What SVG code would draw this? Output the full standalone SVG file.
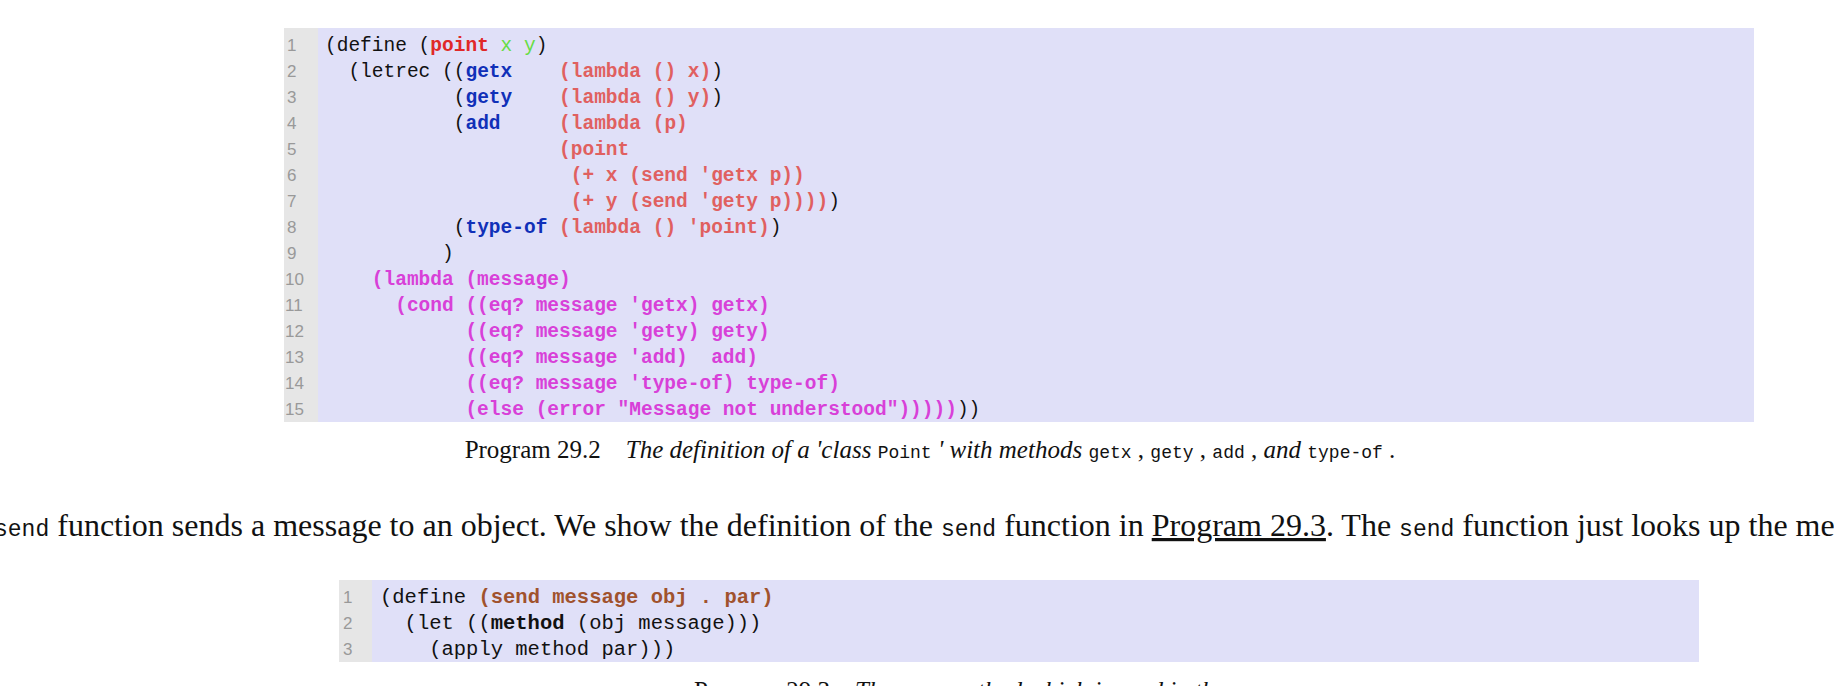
<svg xmlns="http://www.w3.org/2000/svg" width="1834" height="686" viewBox="0 0 1834 686">
<style>
text{white-space:pre}
.code{font-family:"Liberation Mono",monospace;font-size:19.5px;fill:#111}
.code2{font-family:"Liberation Mono",monospace;font-size:20.5px;fill:#111}
.ln{font-family:"Liberation Sans",sans-serif;font-size:17px;fill:#999}
.b{font-weight:bold}
.r{fill:#e02828;font-weight:bold}
.g{fill:#66dd44}
.bl{fill:#1030b8;font-weight:bold}
.s{fill:#e06060;font-weight:bold}
.m{fill:#d840d8;font-weight:bold}
.br{fill:#a0522d;font-weight:bold}
.serif{font-family:"Liberation Serif",serif;fill:#111}
.mono{font-family:"Liberation Mono",monospace}
</style>
<rect width="1834" height="686" fill="#fff"/>
<g id="program-29-2">
<rect x="284" y="28" width="1470" height="394" fill="#e0e0f8"/>
<rect x="284" y="28" width="34" height="394" fill="#e6e6e6"/>
<g class="ln">
<text x="287" y="51">1</text><text x="287" y="77">2</text><text x="287" y="103">3</text><text x="287" y="129">4</text><text x="287" y="155">5</text><text x="287" y="181">6</text><text x="287" y="207">7</text><text x="287" y="233">8</text><text x="287" y="259">9</text><text x="285" y="285">10</text><text x="285" y="311">11</text><text x="285" y="337">12</text><text x="285" y="363">13</text><text x="285" y="389">14</text><text x="285" y="415">15</text>
</g>
<g class="code">
<text x="325" y="51">(define (<tspan class="r">point</tspan> <tspan class="g">x</tspan> <tspan class="g">y</tspan>)</text>
<text x="325" y="77">  (letrec ((<tspan class="bl">getx</tspan>    <tspan class="s">(lambda () x)</tspan>)</text>
<text x="325" y="103">           (<tspan class="bl">gety</tspan>    <tspan class="s">(lambda () y)</tspan>)</text>
<text x="325" y="129">           (<tspan class="bl">add</tspan>     <tspan class="s">(lambda (p)</tspan></text>
<text x="325" y="155"><tspan class="s">                    (point</tspan></text>
<text x="325" y="181"><tspan class="s">                     (+ x (send 'getx p))</tspan></text>
<text x="325" y="207"><tspan class="s">                     (+ y (send 'gety p))))</tspan>)</text>
<text x="325" y="233">           (<tspan class="bl">type-of</tspan> <tspan class="s">(lambda () 'point)</tspan>)</text>
<text x="325" y="259">          )</text>
<text x="325" y="285"><tspan class="m">    (lambda (message)</tspan></text>
<text x="325" y="311"><tspan class="m">      (cond ((eq? message 'getx) getx)</tspan></text>
<text x="325" y="337"><tspan class="m">            ((eq? message 'gety) gety)</tspan></text>
<text x="325" y="363"><tspan class="m">            ((eq? message 'add)  add)</tspan></text>
<text x="325" y="389"><tspan class="m">            ((eq? message 'type-of) type-of)</tspan></text>
<text x="325" y="415"><tspan class="m">            (else (error "Message not understood")))))</tspan>))</text>
</g>
</g>
<g id="caption-29-2">
<text class="serif" x="930" y="458" font-size="25" text-anchor="middle">Program 29.2    <tspan font-style="italic">The definition of a 'class </tspan><tspan class="mono" font-size="18">Point</tspan><tspan font-style="italic"> ' with methods </tspan><tspan class="mono" font-size="18">getx</tspan> , <tspan class="mono" font-size="18">gety</tspan> , <tspan class="mono" font-size="18">add</tspan> , <tspan font-style="italic">and </tspan><tspan class="mono" font-size="18">type-of</tspan> .</text>
</g>
<g id="paragraph">
<text class="serif" x="-6" y="536" font-size="32"><tspan class="mono" font-size="23">send</tspan> function sends a message to an object. We show the definition of the <tspan class="mono" font-size="23">send</tspan> function in <tspan text-decoration="underline">Program 29.3</tspan>. The <tspan class="mono" font-size="23">send</tspan> function just looks up the method</text>
</g>
<g id="program-29-3">
<rect x="339" y="580" width="1360" height="82" fill="#e0e0f8"/>
<rect x="339" y="580" width="33" height="82" fill="#e6e6e6"/>
<g class="ln"><text x="343" y="603">1</text><text x="343" y="629">2</text><text x="343" y="655">3</text></g>
<g class="code2">
<text x="380" y="603">(define <tspan class="br">(send message obj . par)</tspan></text>
<text x="380" y="629">  (let ((<tspan class="b">method</tspan> (obj message)))</text>
<text x="380" y="655">    (apply method par)))</text>
</g>
</g>
<g id="caption-29-3">
<text class="serif" x="694" y="699" font-size="25">Program 29.3    <tspan font-style="italic">The </tspan><tspan class="mono" font-size="18">send</tspan><tspan font-style="italic"> method which is used in the</tspan></text>
</g>
</svg>
